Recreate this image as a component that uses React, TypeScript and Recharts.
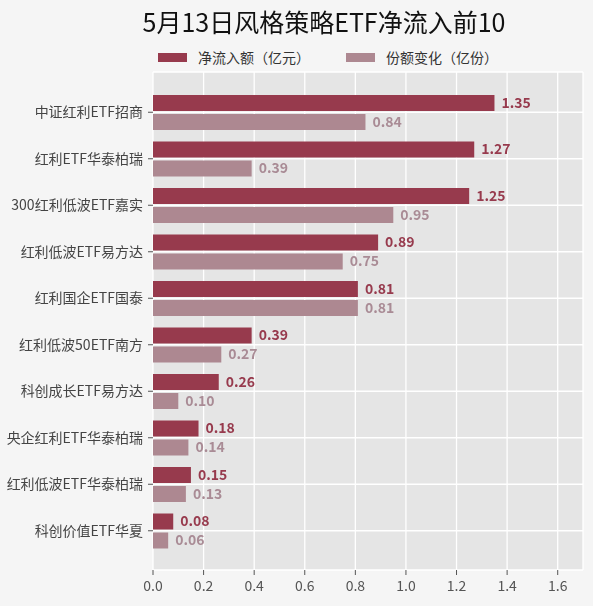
import React from "react";
import { BarChart, Bar, XAxis, YAxis, CartesianGrid, LabelList } from "recharts";

const funds = [
  "中证红利ETF招商",
  "红利ETF华泰柏瑞",
  "300红利低波ETF嘉实",
  "红利低波ETF易方达",
  "红利国企ETF国泰",
  "红利低波50ETF南方",
  "科创成长ETF易方达",
  "央企红利ETF华泰柏瑞",
  "红利低波ETF华泰柏瑞",
  "科创价值ETF华夏",
];
const netInflow = [1.35, 1.27, 1.25, 0.89, 0.81, 0.39, 0.26, 0.18, 0.15, 0.08];
const shareChange = [0.84, 0.39, 0.95, 0.75, 0.81, 0.27, 0.1, 0.14, 0.13, 0.06];
const xTicks = [0, 0.2, 0.4, 0.6, 0.8, 1.0, 1.2, 1.4, 1.6];

const DARK = "#973a4d";
const LIGHT = "#ad8891";
const LIGHT_TEXT = "#a98b95";
const FONT = "'Noto Sans CJK SC', 'Noto Sans', sans-serif";

const data = funds.map((name, i) => ({ name, inflow: netInflow[i], share: shareChange[i] }));

function LegendItem({ color, label }: { color: string; label: string }) {
  return (
    <div style={{ display: "flex", alignItems: "center", gap: 11 }}>
      <span style={{ width: 29, height: 9, background: color, display: "inline-block" }} />
      <span style={{ fontSize: 14, color: "#333" }}>{label}</span>
    </div>
  );
}

export default function App() {
  return (
    <div style={{ position: "fixed", left: 0, top: 0, width: 593, height: 606, background: "#f5f5f5", fontFamily: FONT }}>
      <div style={{ position: "absolute", top: 3, left: 0, width: 648, textAlign: "center", fontSize: 25, color: "#111" }}>
        5月13日风格策略ETF净流入前10
      </div>
      <div style={{ position: "absolute", top: 47, left: 158, display: "flex", gap: 36 }}>
        <LegendItem color={DARK} label="净流入额（亿元）" />
        <LegendItem color={LIGHT} label="份额变化（亿份）" />
      </div>
      <div style={{ position: "absolute", left: 0, top: 0 }}>
        <BarChart
          width={593}
          height={606}
          data={data}
          layout="vertical"
          barSize={16}
          barGap={3}
          margin={{ top: 72, right: 10, bottom: 6, left: 0 }}
        >
          <CartesianGrid fill="#e5e5e5" stroke="#ffffff" strokeWidth={1.3} />
          <XAxis
            type="number"
            domain={[0, 1.7]}
            ticks={xTicks}
            tickFormatter={(v: number) => v.toFixed(1)}
            axisLine={false}
            tickSize={5}
            tickMargin={6}
            tickLine={{ stroke: "#555" }}
            tick={{ fontSize: 14, fill: "#555", fontFamily: FONT }}
            height={30}
          />
          <YAxis
            type="category"
            dataKey="name"
            width={153}
            axisLine={false}
            tickSize={5}
            tickMargin={5}
            tickLine={{ stroke: "#555" }}
            tick={{ fontSize: 14, fill: "#444", fontFamily: FONT }}
            padding={{ top: 17, bottom: 16 }}
          />
          <Bar dataKey="inflow" fill={DARK} isAnimationActive={false}>
            <LabelList
              dataKey="inflow"
              position="right"
              offset={7}
              formatter={(v: number) => v.toFixed(2)}
              style={{ fill: DARK, fontWeight: 700, fontSize: 14, fontFamily: FONT }}
            />
          </Bar>
          <Bar dataKey="share" fill={LIGHT} isAnimationActive={false}>
            <LabelList
              dataKey="share"
              position="right"
              offset={7}
              formatter={(v: number) => v.toFixed(2)}
              style={{ fill: LIGHT_TEXT, fontWeight: 700, fontSize: 14, fontFamily: FONT }}
            />
          </Bar>
        </BarChart>
      </div>
    </div>
  );
}
